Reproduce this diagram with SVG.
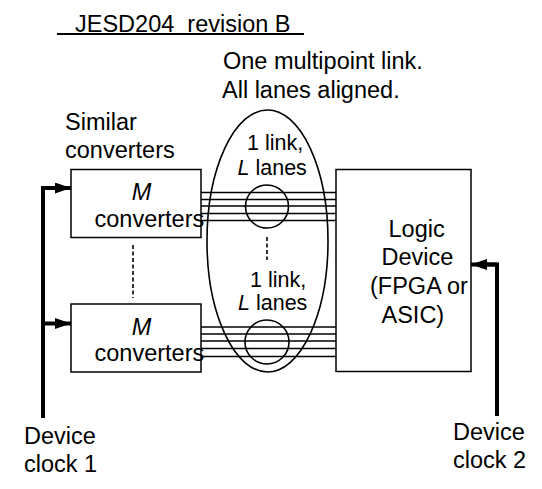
<svg xmlns="http://www.w3.org/2000/svg" width="542" height="489" viewBox="0 0 542 489">
<style>
text{font-family:"Liberation Sans",Arial,sans-serif;fill:#000;font-size:23.5px;white-space:pre}
.sm{font-size:21.5px}
.box{fill:#fff;stroke:#000;stroke-width:1.5}
.lane{stroke:#000;stroke-width:1.6;fill:none}
.ring{fill:none;stroke:#000;stroke-width:1.6}
.clk{stroke:#000;stroke-width:4;fill:none}
.dash{stroke:#000;stroke-width:1.6;stroke-dasharray:4,2.5;fill:none}
</style>
<defs>
<marker id="ah" markerWidth="16" markerHeight="11" refX="16" refY="5.5" orient="auto" markerUnits="userSpaceOnUse">
<path d="M0,0 L16,5.5 L0,11 Z" fill="#000"/>
</marker>
</defs>
<rect width="542" height="489" fill="#fff"/>
<g id="title">
<text x="75" y="31.5" xml:space="preserve">JESD204  revision B</text>
<line x1="57" y1="34" x2="304" y2="34" stroke="#000" stroke-width="2"/>
</g>
<g id="caption">
<text x="223" y="69">One multipoint link.</text>
<text x="222" y="98">All lanes aligned.</text>
</g>
<g id="similar-label">
<text x="65" y="130">Similar</text>
<text x="65" y="158">converters</text>
</g>
<g id="connectors">
<g id="lanes-top">
<line class="lane" x1="201" y1="192.5" x2="336" y2="192.5"/>
<line class="lane" x1="201" y1="199.5" x2="336" y2="199.5"/>
<line class="lane" x1="201" y1="206" x2="336" y2="206"/>
<line class="lane" x1="201" y1="213.5" x2="336" y2="213.5"/>
<line class="lane" x1="201" y1="220.5" x2="336" y2="220.5"/>
</g>
<g id="lanes-bottom">
<line class="lane" x1="201" y1="327" x2="336" y2="327"/>
<line class="lane" x1="201" y1="334" x2="336" y2="334"/>
<line class="lane" x1="201" y1="341" x2="336" y2="341"/>
<line class="lane" x1="201" y1="348.5" x2="336" y2="348.5"/>
<line class="lane" x1="201" y1="356.5" x2="336" y2="356.5"/>
</g>
<path class="clk" d="M43,418 V188 H56" />
<path d="M43,188 H71" stroke="#000" stroke-width="4" marker-end="url(#ah)"/>
<path d="M43,323.5 H71" stroke="#000" stroke-width="4" marker-end="url(#ah)"/>
<path class="clk" d="M497,416 V264.5 H486"/>
<path d="M497,264.5 H471" stroke="#000" stroke-width="4" marker-end="url(#ah)"/>
<line class="dash" x1="133" y1="245" x2="133" y2="298"/>
<line class="dash" x1="267" y1="237" x2="267" y2="260"/>
</g>
<g id="link-ellipse">
<ellipse class="ring" cx="267.5" cy="241" rx="60.5" ry="131"/>
</g>
<g id="link1">
<circle class="ring" cx="267" cy="206.5" r="21.5"/>
<text class="sm" x="247" y="150">1 link,</text>
<text class="sm" x="237.5" y="175"><tspan font-style="italic">L</tspan> lanes</text>
</g>
<g id="link2">
<circle class="ring" cx="267" cy="342" r="22"/>
<text class="sm" x="250" y="286.5">1 link,</text>
<text class="sm" x="238" y="310"><tspan font-style="italic">L</tspan> lanes</text>
</g>
<g id="conv1">
<rect class="box" x="71" y="169.5" width="130" height="68"/>
<text x="141.5" y="200" text-anchor="middle" font-style="italic">M</text>
<text x="94.5" y="226.5">converters</text>
</g>
<g id="conv2">
<rect class="box" x="71" y="304" width="130" height="68"/>
<text x="141.5" y="334.5" text-anchor="middle" font-style="italic">M</text>
<text x="94.5" y="361">converters</text>
</g>
<g id="logic">
<rect class="box" x="336" y="169.5" width="135" height="202"/>
<text x="388.5" y="237">Logic</text>
<text x="381.5" y="265">Device</text>
<text x="370" y="293.5">(FPGA or</text>
<text x="381.5" y="322.5">ASIC)</text>
</g>
<g id="clock1-label">
<text x="24" y="443.5">Device</text>
<text x="24" y="471.5">clock 1</text>
</g>
<g id="clock2-label">
<text x="453" y="439.5">Device</text>
<text x="453" y="467.5">clock 2</text>
</g>
</svg>
